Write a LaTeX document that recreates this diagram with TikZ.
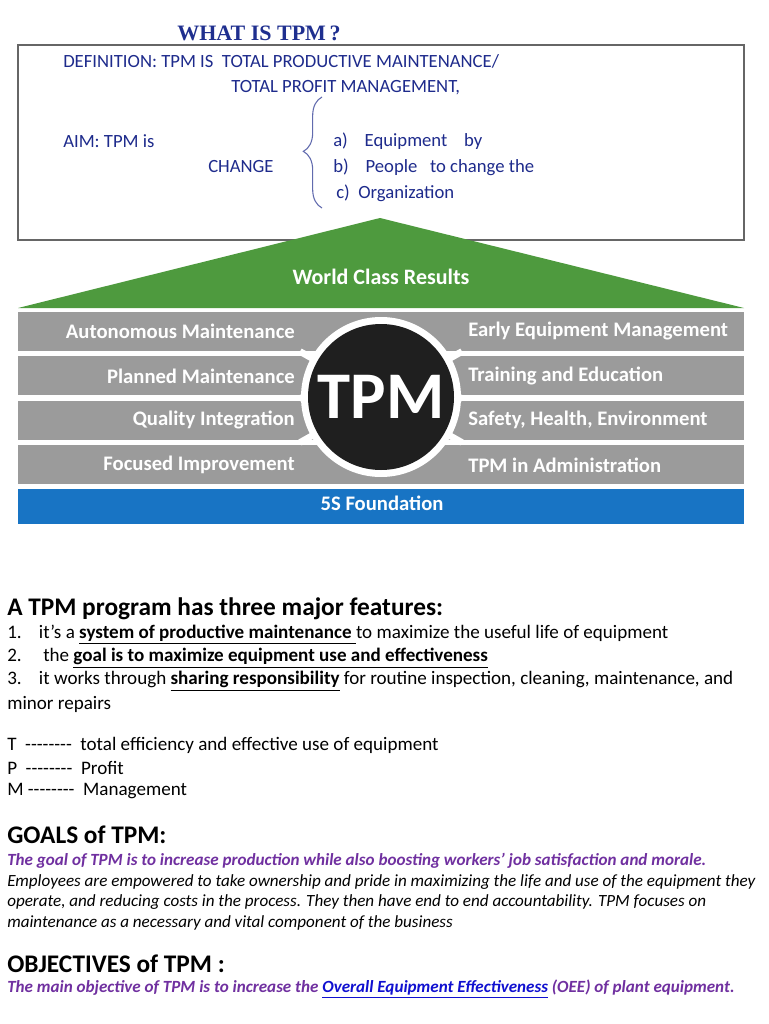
\documentclass[tikz,border=0pt]{standalone}
\usepackage{fontspec}
\setmainfont{Carlito}
\newfontfamily\titlefont{Liberation Serif}
\usetikzlibrary{decorations.pathreplacing}
\definecolor{navy}{HTML}{1F2F8F}
\definecolor{defblue}{HTML}{1E2B8C}
\definecolor{tgreen}{HTML}{4E9A3E}
\definecolor{tgray}{HTML}{9B9B9B}
\definecolor{tblue}{HTML}{1874C4}
\definecolor{purp}{HTML}{7030A0}
\definecolor{lnk}{HTML}{1010D0}
\begin{document}
\begin{tikzpicture}[x=0.75pt,y=-0.75pt,
  deft/.style={anchor=west,inner sep=0pt,text=defblue,font=\fontsize{14}{16}\selectfont},
  bart/.style={inner sep=0pt,text=white,font=\fontsize{15.5}{17}\selectfont\bfseries},
  body/.style={anchor=west,inner sep=0pt,font=\fontsize{14.3}{16}\selectfont},
  ital/.style={anchor=west,inner sep=0pt,font=\fontsize{12.8}{15}\selectfont\itshape},
  head/.style={anchor=west,inner sep=0pt,font=\fontsize{19}{22}\selectfont\bfseries}]
\useasboundingbox (0,0) rectangle (768,1024);
\fill[white] (0,0) rectangle (768,1024);
% title and box
\node[inner sep=0pt,text=navy,font=\titlefont\bfseries\fontsize{16.5}{18}\selectfont] (title) at (259,33) {WHAT IS TPM\,?};
\draw[gray!80!black,line width=1pt] (18,45) rectangle (744,240);
\node[deft] (d1) at (63,61) {DEFINITION: TPM IS\ \ TOTAL PRODUCTIVE MAINTENANCE/};
\node[deft] (d2) at (231,88) {TOTAL PROFIT MANAGEMENT,};
\node[deft] (aim) at (63,141) {AIM: TPM is};
\node[deft] (chg) at (208,167) {CHANGE};
\coordinate (bt) at (322,97);
\coordinate (bb) at (322,208);
\draw[defblue!70,line width=0.8pt,decorate,decoration={brace,amplitude=14pt,aspect=0.51}] (bb) -- (bt);
\node[deft] (ia) at (333,141) {a)\ \ \ \ Equipment\ \ \ \ by};
\node[deft] (ib) at (333,167) {b)\ \ \ \ People\ \ \ to change the};
\node[deft] (ic) at (336,193) {c)\ \ Organization};
% house
\fill[tgreen] (380,218) -- (744,308) -- (18,308) -- cycle;
\node[bart,font=\fontsize{16.5}{18}\selectfont\bfseries] (wcr) at (381,277) {World Class Results};
\foreach \y in {312,356,401,445} \fill[tgray] (18,\y) rectangle (744,\y+39);
\fill[tblue] (18,489) rectangle (744,524);
\node[bart] (fs) at (382,503) {5S Foundation};
\draw[white,line width=5pt] (381,397) -- (300,351.5) (381,397) -- (462,351.5)
  (381,397) -- (300,398) (381,397) -- (462,398)
  (381,397) -- (300,442.5) (381,397) -- (462,442.5);
\fill[white] (381,397) circle (80);
\fill[black!88] (381,397) circle (73);
\node[inner sep=0pt,text=white,font=\fontsize{50}{52}\selectfont\bfseries] (tpm) at (381,397) {TPM};
\node[bart,anchor=east] (l1) at (295,331) {Autonomous Maintenance};
\node[bart,anchor=east] (l2) at (295,376) {Planned Maintenance};
\node[bart,anchor=east] (l3) at (295,420) {Quality Integration};
\node[bart,anchor=east] (l4) at (295,465) {Focused Improvement};
\node[bart,anchor=west] (r1) at (468,331) {Early Equipment Management};
\node[bart,anchor=west] (r2) at (468,376) {Training and Education};
\node[bart,anchor=west] (r3) at (468,420) {Safety, Health, Environment};
\node[bart,anchor=west] (r4) at (468,465) {TPM in Administration};
% features
\node[head] (h1) at (7,609) {A TPM program has three major features:};
\node[body] (f1) at (7,635) {1.\ \ \ \ it’s a \textbf{\underline{system of productive maintenance }}to maximize the useful life of equipment};
\node[body] (f2) at (7,658) {2.\ \ \ \ \ the \textbf{\underline{goal is to maximize equipment use and effectiveness}}};
\node[body] (f3) at (7,681) {3.\ \ \ \ it works through \textbf{\underline{sharing responsibility}} for routine inspection, cleaning, maintenance, and};
\node[body] (f4) at (7,704) {minor repairs};
\node[body] (t) at (7,745) {T\ \ -{}-{}-{}-{}-{}-{}-{}-\ \ total efficiency and effective use of equipment};
\node[body] (p) at (7,768) {P\ \ -{}-{}-{}-{}-{}-{}-{}-\ \ Profit};
\node[body] (m) at (7,791) {M -{}-{}-{}-{}-{}-{}-{}-\ \ Management};
% goals
\node[head] (h2) at (7,835) {GOALS of TPM:};
\node[ital,text=purp,font=\fontsize{12.8}{15}\selectfont\bfseries\itshape] (g1) at (7,861) {The goal of TPM is to increase production while also boosting workers’ job satisfaction and morale.};
\node[ital] (g2) at (7,882) {Employees are empowered to take ownership and pride in maximizing the life and use of the equipment they};
\node[ital] (g3) at (7,902) {operate, and reducing costs in the process. They then have end to end accountability. TPM focuses on};
\node[ital] (g4) at (7,923) {maintenance as a necessary and vital component of the business};
% objectives
\node[head] (h3) at (7,964) {OBJECTIVES of TPM :};
\node[ital,text=purp,font=\fontsize{12.8}{15}\selectfont\bfseries\itshape] (o1) at (7,989) {The main objective of TPM is to increase the \textcolor{lnk}{\underline{Overall Equipment Effectiveness}} (OEE) of plant equipment.};
\end{tikzpicture}
\end{document}
